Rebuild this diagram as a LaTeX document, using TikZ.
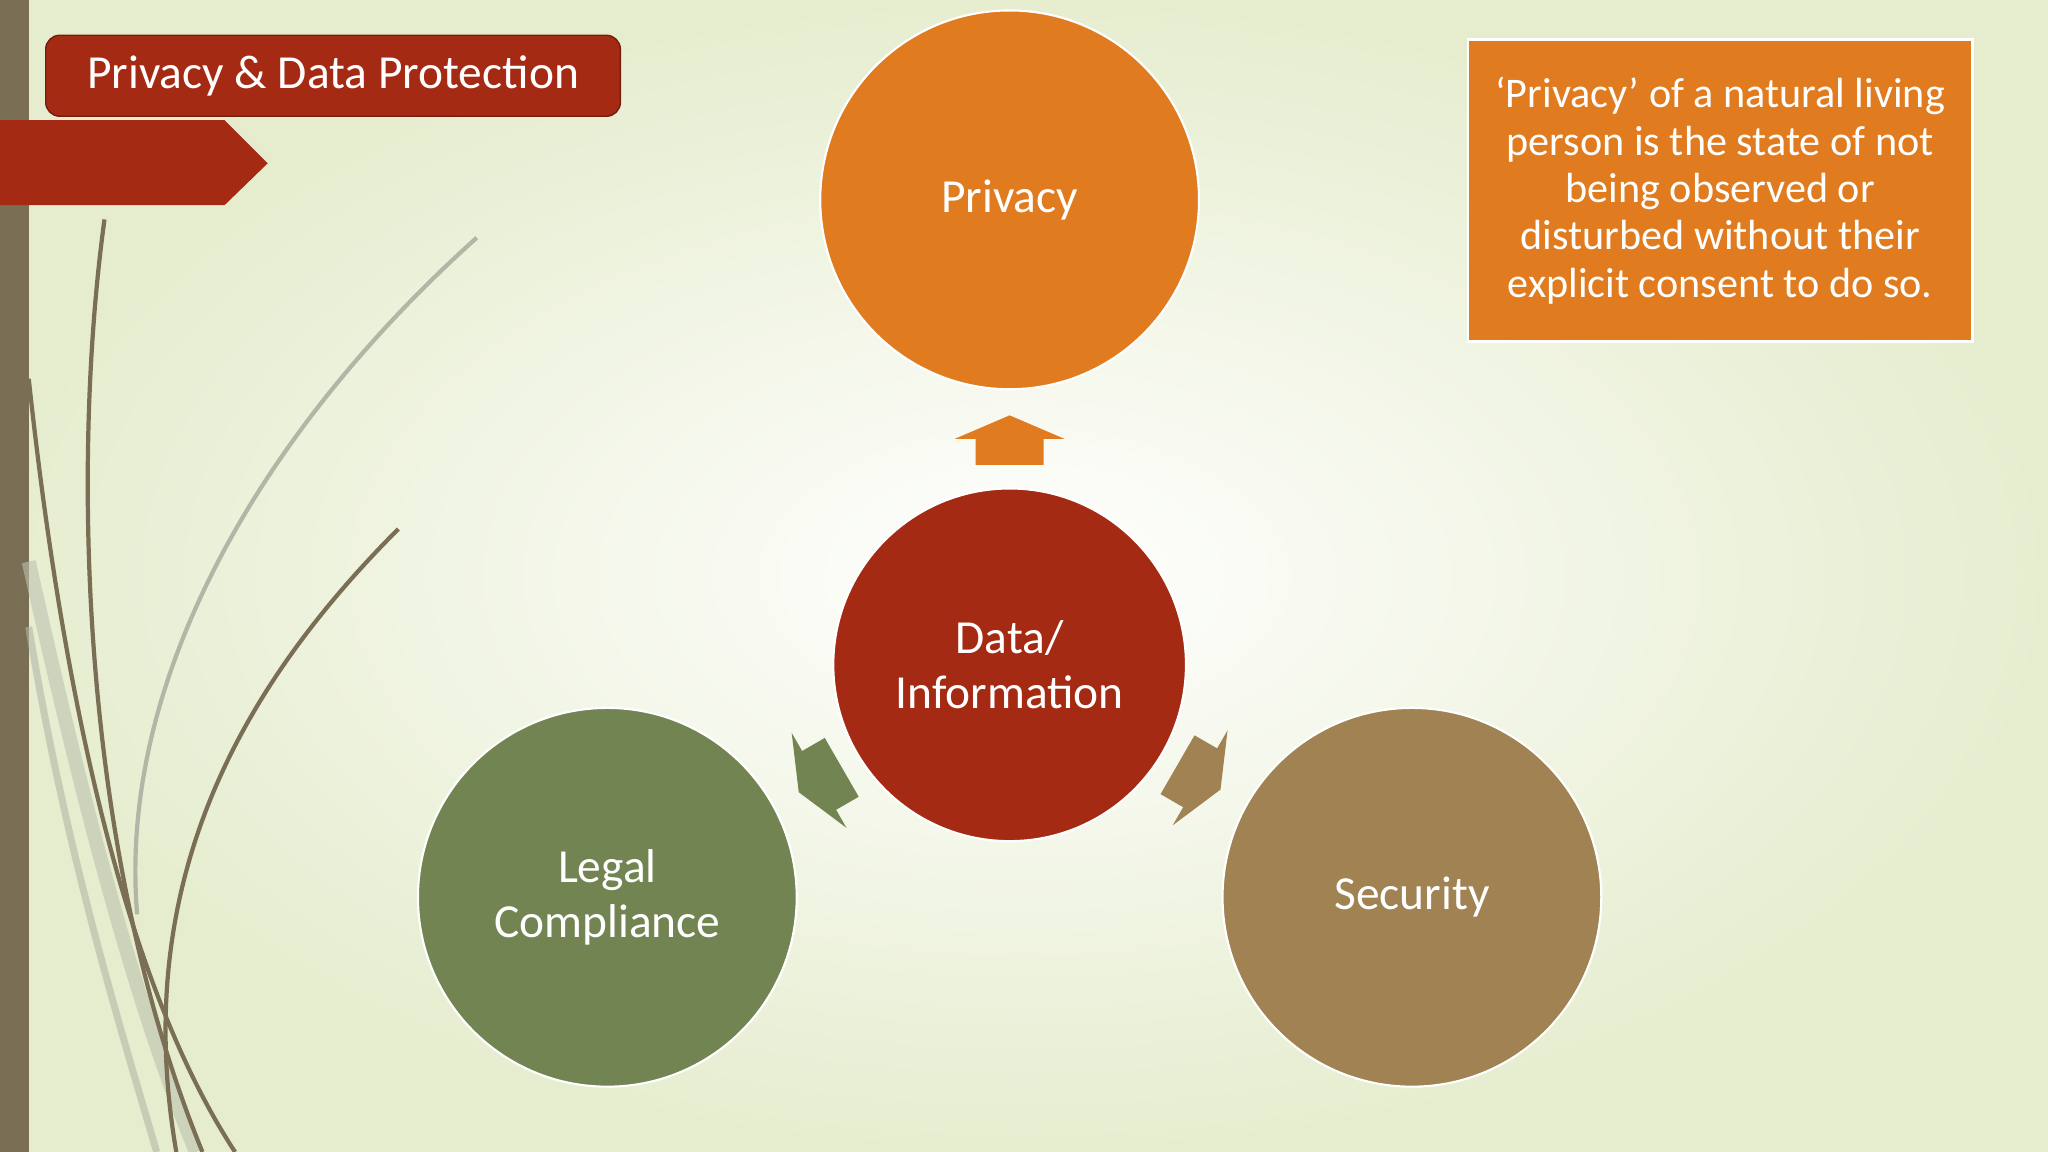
\documentclass[tikz,border=0pt]{standalone}
\usepackage{fontspec}
\setmainfont{Carlito}
\begin{document}
\begin{tikzpicture}[x=0.013061cm,y=-0.013061cm,
  circ/.style={circle,draw=white,line width=0.6pt,text=white,align=center,inner sep=0pt,font=\fontsize{13.5}{15.5}\selectfont},
  grass/.style={line width=1.2pt,draw=#1},
  arr/.pic={\fill[pic actions] (-42,-1)--(0,-19)--(42,-1)--(26,-1)--(26,19)--(-26,19)--(-26,-1)--cycle;}]
\definecolor{bgout}{HTML}{E6EDCF}
\definecolor{dred}{HTML}{A52A14}
\definecolor{orng}{HTML}{E07B1F}
\definecolor{grn}{HTML}{738453}
\definecolor{brn}{HTML}{A08253}
\definecolor{bar}{HTML}{7A6E55}
\useasboundingbox (0,0) rectangle (1568,882);
\shade[inner color=white,outer color=bgout] (0,0) rectangle (1568,882);
\fill[bar] (0,0) rectangle (22,882);
% grass
\draw[grass=bgout!60!gray,line width=4pt,opacity=0.6] (22,430) .. controls (60,600) and (100,760) .. (150,882);
\draw[grass=bgout!50!gray,line width=2pt,opacity=0.6] (22,480) .. controls (50,650) and (90,780) .. (120,882);
\draw[grass=bgout!50!gray] (365,182) .. controls (200,330) and (90,520) .. (105,700);
\draw[grass=bar] (80,168) .. controls (55,350) and (60,650) .. (155,882);
\draw[grass=bar] (22,290) .. controls (50,550) and (100,760) .. (180,882);
\draw[grass=bar] (305,405) .. controls (180,530) and (100,680) .. (135,882);
% title
\fill[dred] (0,92)--(172,92)--(205,125)--(172,157)--(0,157)--cycle;
\node[draw=dred!70!black,fill=dred,rounded corners=4pt,minimum width=440*0.013061cm,minimum height=62*0.013061cm,text=white,font=\fontsize{13.5}{16}\selectfont] (title) at (255,58) {Privacy \& Data Protection};
% circles
\node[circ,fill=orng,minimum size=290*0.013061cm] (priv) at (773,153) {Privacy};
\node[circ,fill=dred,minimum size=270*0.013061cm] (data) at (773,509) {Data/\\Information};
\node[circ,fill=grn,minimum size=290*0.013061cm] (legal) at (465,687) {Legal\\Compliance};
\node[circ,fill=brn,minimum size=290*0.013061cm] (sec) at (1081,687) {Security};
\pic[fill=orng] at (773,337) {arr};
\pic[fill=grn,rotate=120] at (628,597) {arr};
\pic[fill=brn,rotate=-120] at (918,595) {arr};
% definition box
\node[draw=white,line width=0.8pt,fill=orng,minimum width=386*0.013061cm,minimum height=231*0.013061cm,text=white,align=center,font=\fontsize{12}{13.5}\selectfont] (def) at (1317,146) {‘Privacy’ of a natural living\\person is the state of not\\being observed or\\disturbed without their\\explicit consent to do so.};
\end{tikzpicture}
\end{document}
